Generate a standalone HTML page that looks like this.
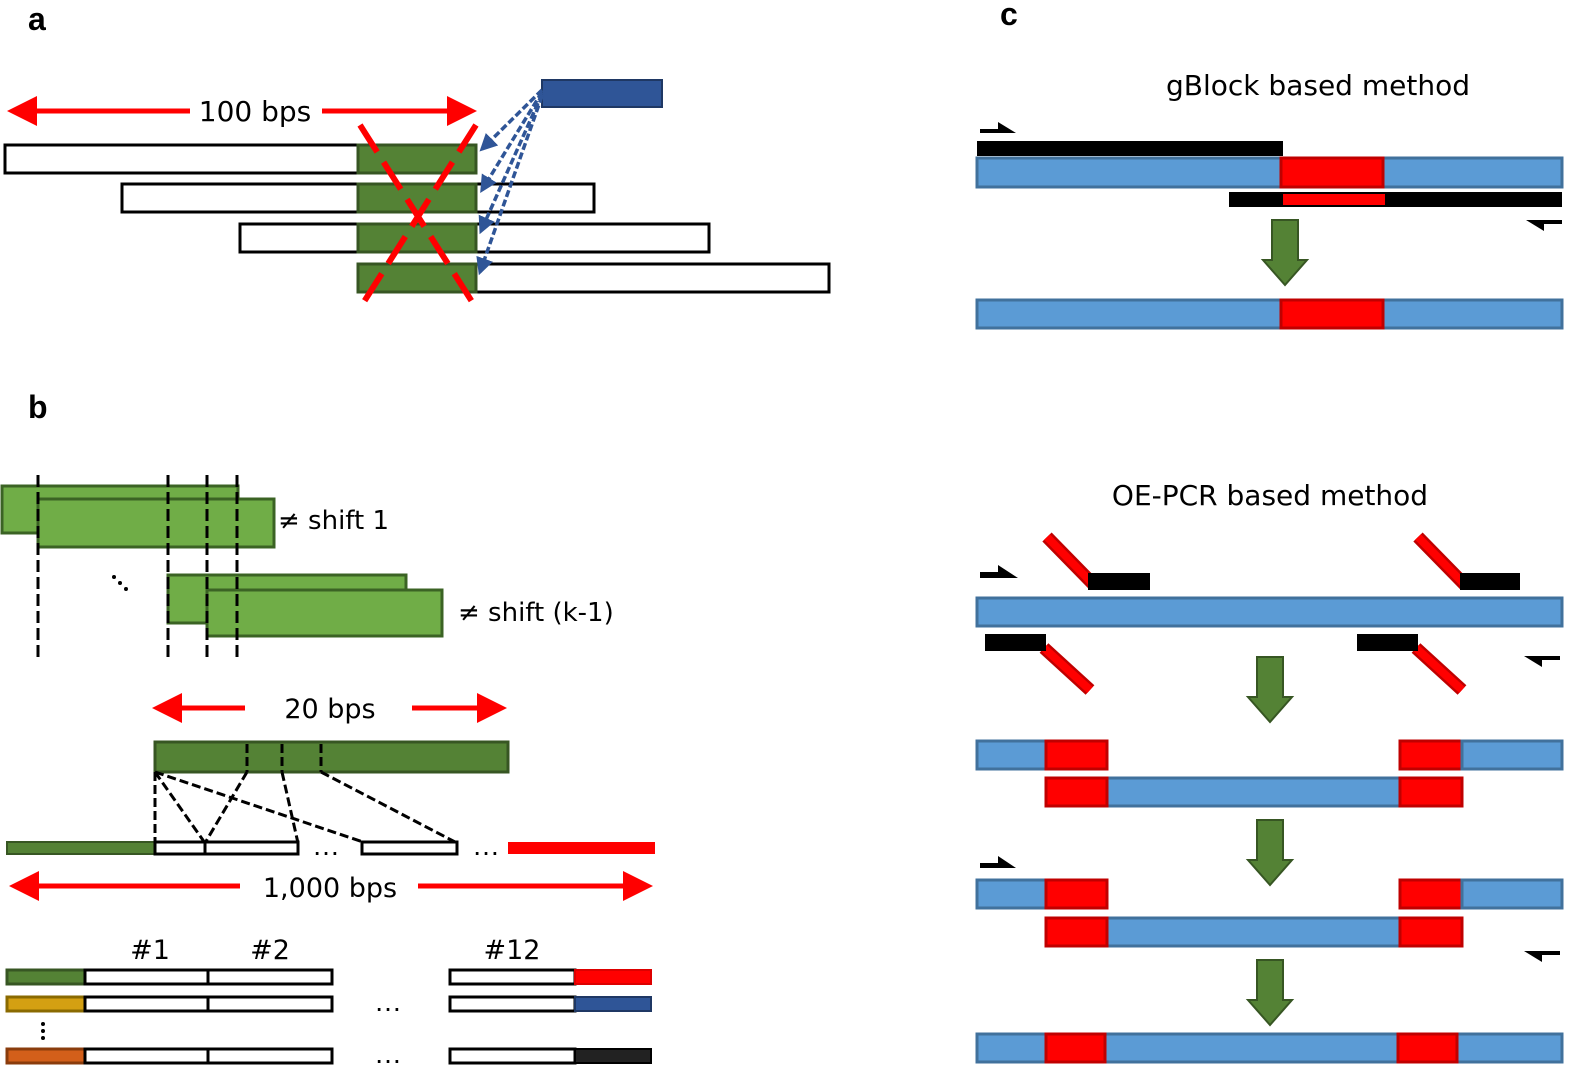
<!DOCTYPE html>
<html><head><meta charset="utf-8"><style>
html,body{margin:0;padding:0;background:#fff;}
svg{display:block;font-family:"Liberation Sans","DejaVu Sans",sans-serif;}
.t{font-family:"DejaVu Sans","Liberation Sans",sans-serif;}
</style></head><body>
<svg width="1575" height="1075" viewBox="0 0 1575 1075" xmlns="http://www.w3.org/2000/svg">
<defs>
<marker id="ra" markerWidth="6" markerHeight="6" refX="5" refY="3" orient="auto" markerUnits="strokeWidth"><path d="M0,0 L6,3 L0,6 z" fill="#f00"/></marker>
<marker id="ba" markerWidth="5" markerHeight="5" refX="4" refY="2.5" orient="auto" markerUnits="strokeWidth"><path d="M0,0 L5,2.5 L0,5 z" fill="#2F5597"/></marker>
</defs>
<text x="28" y="30" font-size="32" font-weight="bold">a</text>
<text x="28" y="418" font-size="32" font-weight="bold">b</text>
<text x="1000" y="25" font-size="32" font-weight="bold">c</text>

<line x1="190" y1="111" x2="12" y2="111" stroke="#f00" stroke-width="5" marker-end="url(#ra)"/>
<line x1="322" y1="111" x2="472" y2="111" stroke="#f00" stroke-width="5" marker-end="url(#ra)"/>
<text x="255" y="121" font-size="28" text-anchor="middle" class="t">100 bps</text>
<rect x="542" y="80" width="120" height="27" fill="#2F5597" stroke="#1F3864" stroke-width="2"/>
<rect x="5" y="145" width="353" height="28" fill="#fff" stroke="#000" stroke-width="3"/>
<rect x="122" y="184" width="472" height="28" fill="#fff" stroke="#000" stroke-width="3"/>
<rect x="240" y="224" width="469" height="28" fill="#fff" stroke="#000" stroke-width="3"/>
<rect x="476" y="264" width="353" height="28" fill="#fff" stroke="#000" stroke-width="3"/>
<g fill="#548235" stroke="#375623" stroke-width="3">
<rect x="358" y="145" width="118" height="28"/><rect x="358" y="184" width="118" height="28"/>
<rect x="358" y="224" width="118" height="28"/><rect x="358" y="264" width="118" height="28"/>
</g>
<g stroke="#f00" stroke-width="6" stroke-dasharray="32,12">
<line x1="360" y1="125" x2="476" y2="308"/><line x1="476" y1="125" x2="360" y2="308"/>
</g>
<g stroke="#2F5597" stroke-width="3.5" stroke-dasharray="7,3" fill="none">
<line x1="542" y1="90" x2="482" y2="149" marker-end="url(#ba)"/>
<line x1="542" y1="92" x2="482" y2="190" marker-end="url(#ba)"/>
<line x1="542" y1="94" x2="481" y2="231" marker-end="url(#ba)"/>
<line x1="542" y1="96" x2="480" y2="272" marker-end="url(#ba)"/>
</g>

<g fill="#70AD47" stroke="#3B6324" stroke-width="3">
<rect x="2" y="486" width="236" height="47"/><rect x="38" y="499" width="236" height="48"/>
<rect x="168" y="575" width="238" height="48"/><rect x="207" y="590" width="235" height="46"/>
</g>
<g stroke="#000" stroke-width="3" stroke-dasharray="12,5">
<line x1="38" y1="475" x2="38" y2="660"/><line x1="168" y1="475" x2="168" y2="660"/>
<line x1="207" y1="475" x2="207" y2="660"/><line x1="237" y1="475" x2="237" y2="660"/>
</g>
<text x="278" y="529" font-size="26" class="t">≠ shift 1</text>
<text x="458" y="621" font-size="26" class="t">≠ shift (k-1)</text>
<g fill="#000"><circle cx="114" cy="577" r="2"/><circle cx="120" cy="583" r="2"/><circle cx="126" cy="589" r="2"/></g>

<line x1="245" y1="708" x2="157" y2="708" stroke="#f00" stroke-width="5" marker-end="url(#ra)"/>
<line x1="412" y1="708" x2="502" y2="708" stroke="#f00" stroke-width="5" marker-end="url(#ra)"/>
<text x="330" y="718" font-size="27" text-anchor="middle" class="t">20 bps</text>
<rect x="155" y="742" width="353" height="30" fill="#548235" stroke="#375623" stroke-width="3"/>
<g stroke="#000" stroke-width="3" stroke-dasharray="9,4" fill="none">
<line x1="247" y1="744" x2="247" y2="772"/><line x1="282" y1="744" x2="282" y2="772"/><line x1="321" y1="744" x2="321" y2="772"/>
<line x1="155" y1="772" x2="155" y2="843"/><line x1="155" y1="772" x2="205" y2="843"/>
<line x1="155" y1="772" x2="366" y2="843"/><line x1="247" y1="772" x2="205" y2="843"/>
<line x1="282" y1="772" x2="298" y2="843"/><line x1="321" y1="772" x2="457" y2="843"/>
</g>
<rect x="7" y="842" width="148" height="12" fill="#548235" stroke="#375623" stroke-width="2"/>
<g fill="#fff" stroke="#000" stroke-width="3">
<rect x="155" y="842" width="50" height="12"/><rect x="205" y="842" width="93" height="12"/>
<rect x="362" y="842" width="95" height="12"/>
</g>
<rect x="508" y="842" width="147" height="12" fill="#f00"/>
<text x="312" y="855" font-size="28">…</text><text x="472" y="855" font-size="28">…</text>
<line x1="240" y1="886" x2="14" y2="886" stroke="#f00" stroke-width="5" marker-end="url(#ra)"/>
<line x1="418" y1="886" x2="648" y2="886" stroke="#f00" stroke-width="5" marker-end="url(#ra)"/>
<text x="330" y="897" font-size="27" text-anchor="middle" class="t">1,000 bps</text>

<text x="150" y="959" font-size="27" text-anchor="middle" class="t">#1</text>
<text x="270" y="959" font-size="27" text-anchor="middle" class="t">#2</text>
<text x="512" y="959" font-size="27" text-anchor="middle" class="t">#12</text>
<g stroke-width="3">
<rect x="7" y="970" width="78" height="14" fill="#548235" stroke="#375623"/>
<rect x="7" y="997" width="78" height="14" fill="#D4A012" stroke="#8A6A00"/>
<rect x="7" y="1049" width="78" height="14" fill="#D35F1A" stroke="#8A3C0C"/>
<g fill="#fff" stroke="#000">
<rect x="85" y="970" width="123" height="14"/><rect x="208" y="970" width="124" height="14"/><rect x="450" y="970" width="125" height="14"/>
<rect x="85" y="997" width="123" height="14"/><rect x="208" y="997" width="124" height="14"/><rect x="450" y="997" width="125" height="14"/>
<rect x="85" y="1049" width="123" height="14"/><rect x="208" y="1049" width="124" height="14"/><rect x="450" y="1049" width="125" height="14"/>
</g>
<rect x="575" y="970" width="76" height="14" fill="#f00" stroke="#d00" stroke-width="2"/>
<rect x="575" y="997" width="76" height="14" fill="#2F5597" stroke="#1F3864" stroke-width="2"/>
<rect x="575" y="1049" width="76" height="14" fill="#222" stroke="#000" stroke-width="2"/>
</g>
<text x="374" y="1011" font-size="28">…</text><text x="374" y="1063" font-size="28">…</text>
<g fill="#000"><circle cx="43" cy="1024" r="2"/><circle cx="43" cy="1031" r="2"/><circle cx="43" cy="1038" r="2"/></g>

<text x="1318" y="95" font-size="28" text-anchor="middle" class="t">gBlock based method</text>
<path d="M980,129 L998,129 L998,122 L1016,133 L980,133 z" fill="#000"/>
<rect x="977" y="141" width="306" height="15" fill="#000"/>
<g stroke-width="3">
<rect x="977" y="158" width="585" height="29" fill="#5B9BD5" stroke="#41719C"/>
<rect x="1281" y="158" width="102" height="29" fill="#f00" stroke="#C00000"/>
</g>
<rect x="1229" y="192" width="333" height="15" fill="#000"/>
<rect x="1283" y="194" width="102" height="11" fill="#f00"/>
<path d="M1562,224 L1544,224 L1544,231 L1526,220 L1562,220 z" fill="#000"/>
<path d="M1272,220 h26 v40 h9 l-22,25 l-22,-25 h9 z" fill="#548235" stroke="#375623" stroke-width="2"/>
<g stroke-width="3">
<rect x="977" y="300" width="585" height="28" fill="#5B9BD5" stroke="#41719C"/>
<rect x="1281" y="300" width="102" height="28" fill="#f00" stroke="#C00000"/>
</g>

<text x="1270" y="505" font-size="28" text-anchor="middle" class="t">OE-PCR based method</text>
<path d="M980,572 L998,572 L998,565 L1018,578 L980,578 z" fill="#000"/>
<g stroke="#C00000" stroke-width="13"><line x1="1047" y1="537" x2="1094" y2="585"/><line x1="1418" y1="537" x2="1465" y2="585"/>
<line x1="1044" y1="648" x2="1090" y2="690"/><line x1="1416" y1="648" x2="1462" y2="690"/></g>
<g stroke="#f00" stroke-width="8"><line x1="1047" y1="537" x2="1094" y2="585"/><line x1="1418" y1="537" x2="1465" y2="585"/>
<line x1="1044" y1="648" x2="1090" y2="690"/><line x1="1416" y1="648" x2="1462" y2="690"/></g>
<g fill="#000"><rect x="1088" y="573" width="62" height="17"/><rect x="1460" y="573" width="60" height="17"/>
<rect x="985" y="634" width="61" height="17"/><rect x="1357" y="634" width="61" height="17"/></g>
<rect x="977" y="598" width="585" height="28" fill="#5B9BD5" stroke="#41719C" stroke-width="3"/>
<path d="M1560,660 L1542,660 L1542,667 L1524,656 L1560,656 z" fill="#000"/>
<path d="M1257,657 h26 v40 h9 l-22,25 l-22,-25 h9 z" fill="#548235" stroke="#375623" stroke-width="2"/>

<g stroke-width="3">
<rect x="977" y="741" width="69" height="28" fill="#5B9BD5" stroke="#41719C"/>
<rect x="1046" y="741" width="61" height="28" fill="#f00" stroke="#C00000"/>
<rect x="1400" y="741" width="62" height="28" fill="#f00" stroke="#C00000"/>
<rect x="1462" y="741" width="100" height="28" fill="#5B9BD5" stroke="#41719C"/>
<rect x="1107" y="778" width="293" height="28" fill="#5B9BD5" stroke="#41719C"/>
<rect x="1046" y="778" width="61" height="28" fill="#f00" stroke="#C00000"/>
<rect x="1400" y="778" width="62" height="28" fill="#f00" stroke="#C00000"/>
</g>
<path d="M1257,820 h26 v40 h9 l-22,25 l-22,-25 h9 z" fill="#548235" stroke="#375623" stroke-width="2"/>
<path d="M980,863 L998,863 L998,856 L1016,868 L980,868 z" fill="#000"/>
<g stroke-width="3">
<rect x="977" y="880" width="69" height="28" fill="#5B9BD5" stroke="#41719C"/>
<rect x="1046" y="880" width="61" height="28" fill="#f00" stroke="#C00000"/>
<rect x="1400" y="880" width="62" height="28" fill="#f00" stroke="#C00000"/>
<rect x="1462" y="880" width="100" height="28" fill="#5B9BD5" stroke="#41719C"/>
<rect x="1107" y="918" width="293" height="28" fill="#5B9BD5" stroke="#41719C"/>
<rect x="1046" y="918" width="61" height="28" fill="#f00" stroke="#C00000"/>
<rect x="1400" y="918" width="62" height="28" fill="#f00" stroke="#C00000"/>
</g>
<path d="M1560,955 L1542,955 L1542,962 L1524,951 L1560,951 z" fill="#000"/>
<path d="M1257,960 h26 v40 h9 l-22,25 l-22,-25 h9 z" fill="#548235" stroke="#375623" stroke-width="2"/>
<g stroke-width="3">
<rect x="977" y="1034" width="585" height="28" fill="#5B9BD5" stroke="#41719C"/>
<rect x="1046" y="1034" width="59" height="28" fill="#f00" stroke="#C00000"/>
<rect x="1398" y="1034" width="59" height="28" fill="#f00" stroke="#C00000"/>
</g>
</svg>
</body></html>
